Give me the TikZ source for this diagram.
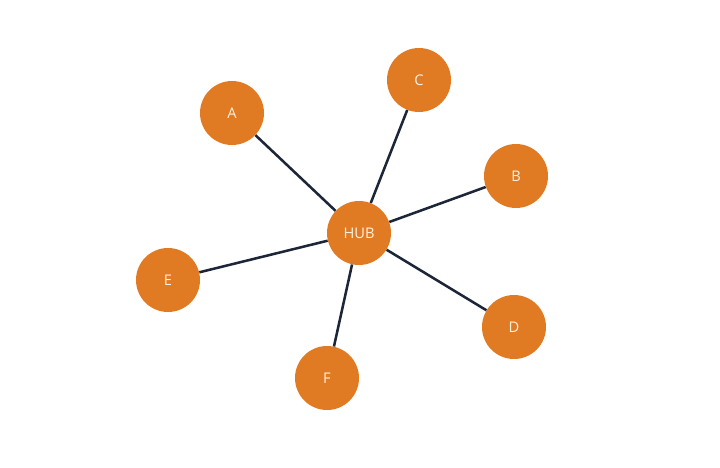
\documentclass[tikz,border=0pt]{standalone}
\usepackage{fontspec}
\setmainfont{Open Sans}
\definecolor{nodeorange}{HTML}{E07B24}
\definecolor{edgenavy}{HTML}{1C2638}
\definecolor{labelcream}{HTML}{FDF1E0}
\begin{document}
\begin{tikzpicture}[x=0.75pt,y=-0.75pt,
  hubnode/.style={circle,fill=nodeorange,draw=none,minimum size=48pt,inner sep=0pt,
    text=labelcream,font=\fontsize{11}{13}\selectfont},
  link/.style={draw=edgenavy,line width=1.9pt}]
\useasboundingbox (0,0) rectangle (720,467);
\node[hubnode] (hub) at (359,233) {HUB};
\node[hubnode] (a) at (232,113) {A};
\node[hubnode] (c) at (419,80) {C};
\node[hubnode] (b) at (516,176) {B};
\node[hubnode] (d) at (514,327) {D};
\node[hubnode] (e) at (168,280) {E};
\node[hubnode] (f) at (327,378) {F};
\foreach \t in {a,c,b,d,e,f} {\draw[link] (hub) -- (\t);}
\end{tikzpicture}
\end{document}
